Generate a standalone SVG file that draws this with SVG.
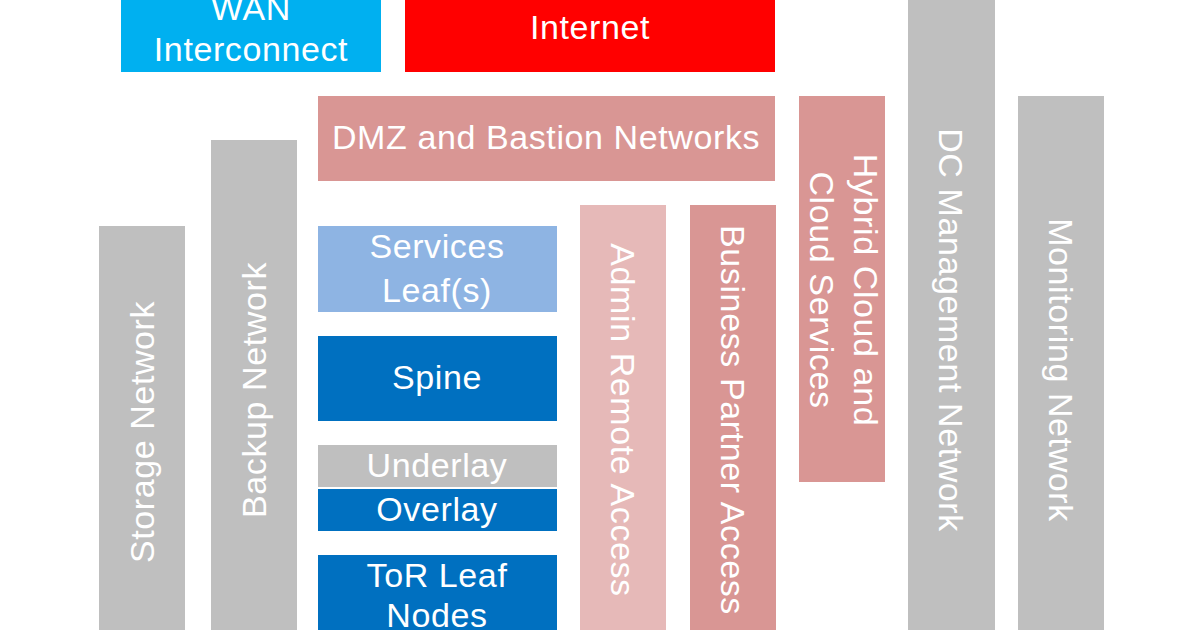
<svg xmlns="http://www.w3.org/2000/svg" width="1200" height="630" viewBox="0 0 1200 630">
<style>
text{font-family:"Liberation Sans",Arial,sans-serif;font-size:34px;letter-spacing:0.6px;fill:#fff;text-anchor:middle;dominant-baseline:central}
.g{fill:#BFBFBF}.p{fill:#D99694}.b{fill:#0070C0}
</style>
<rect width="1200" height="630" fill="#fff"/>
<g id="wan"><rect x="121" y="0" width="260" height="72" fill="#00B0F0"/><text x="251" y="8">WAN</text><text x="251" y="49">Interconnect</text></g>
<g id="internet"><rect x="405" y="0" width="370" height="72" fill="#FF0000"/><text x="590" y="27">Internet</text></g>
<g id="dcmgmt"><rect class="g" x="908" y="0" width="87" height="630"/><text transform="translate(951,330) rotate(90)">DC Management Network</text></g>
<g id="monitoring"><rect class="g" x="1018" y="96" width="86" height="534"/><text transform="translate(1061,370) rotate(90)">Monitoring Network</text></g>
<g id="dmz"><rect class="p" x="318" y="96" width="457" height="85"/><text x="546" y="137">DMZ and Bastion Networks</text></g>
<g id="hybrid"><rect class="p" x="799" y="96" width="86" height="386"/><text transform="translate(844,290) rotate(90)"><tspan x="0" y="-22">Hybrid Cloud and</tspan><tspan x="0" y="22">Cloud Services</tspan></text></g>
<g id="backup"><rect class="g" x="211" y="140" width="86" height="490"/><text transform="translate(254,390) rotate(-90)">Backup Network</text></g>
<g id="storage"><rect class="g" x="99" y="226" width="86" height="404"/><text transform="translate(142,432) rotate(-90)">Storage Network</text></g>
<g id="services"><rect x="318" y="226" width="239" height="86" fill="#8EB4E3"/><text x="437" y="246">Services</text><text x="437" y="290">Leaf(s)</text></g>
<g id="spine"><rect class="b" x="318" y="336" width="239" height="85"/><text x="437" y="377">Spine</text></g>
<g id="underlay"><rect class="g" x="318" y="445" width="239" height="42"/><text x="437" y="465">Underlay</text></g>
<g id="overlay"><rect class="b" x="318" y="489" width="239" height="42"/><text x="437" y="509">Overlay</text></g>
<g id="tor"><rect class="b" x="318" y="555" width="239" height="75"/><text x="437" y="575">ToR Leaf</text><text x="437" y="615">Nodes</text></g>
<g id="admin"><rect x="580" y="205" width="86" height="425" fill="#E6B9B8"/><text transform="translate(623,420) rotate(90)">Admin Remote Access</text></g>
<g id="business"><rect class="p" x="690" y="205" width="86" height="425"/><text transform="translate(733,420) rotate(90)">Business Partner Access</text></g>
<g id="connectors"/>
</svg>
